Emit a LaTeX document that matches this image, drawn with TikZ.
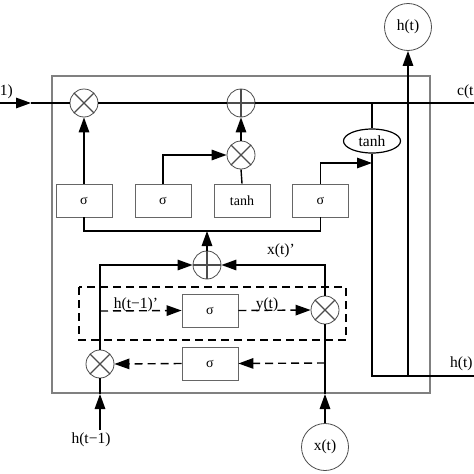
\documentclass[tikz,border=0pt]{standalone}
\usepackage{fontspec}
\setmainfont{Liberation Serif}
\usetikzlibrary{arrows.meta,shapes.geometric}
\begin{document}
\begin{tikzpicture}[x=1pt,y=-1pt,
  every node/.style={font=\fontsize{15.5}{18}\selectfont},
  wire/.style={line width=1.4pt,black},
  arr/.style={wire,-{Triangle[length=15pt,width=10.5pt]}},
  dwire/.style={wire,dash pattern=on 8pt off 5pt},
  darr/.style={dwire,-{Triangle[length=15pt,width=10.5pt]}},
  gate/.style={draw=black!60,line width=0.8pt,minimum width=56pt,minimum height=33pt,inner sep=0pt,font=\fontsize{14}{16}\selectfont},
  opnode/.style={circle,draw=black!70,line width=0.8pt,minimum size=28pt,inner sep=0pt},
  mult/.style={opnode,path picture={\draw[line width=1.3pt]
      ([shift={(-10pt,-10pt)}]path picture bounding box.center) -- ([shift={(10pt,10pt)}]path picture bounding box.center)
      ([shift={(-10pt,10pt)}]path picture bounding box.center) -- ([shift={(10pt,-10pt)}]path picture bounding box.center);}},
  plusop/.style={opnode,path picture={\draw[line width=1.3pt]
      (path picture bounding box.north) -- (path picture bounding box.south)
      (path picture bounding box.west) -- (path picture bounding box.east);}},
  io/.style={circle,draw=black!70,line width=0.8pt,minimum size=47pt,inner sep=0pt}
]
\useasboundingbox (0,0) rectangle (474,474);
% main cell
\draw[black!50,line width=1.1pt] (52,76) rectangle (430,393);
% dashed box
\draw[dwire] (79,287) rectangle (346,340);

% nodes
\node[mult] (m1) at (84,103) {};
\node[plusop] (p1) at (241,103) {};
\node[mult] (m2) at (241,155) {};
\node[gate] (b1) at (84,200.5) {σ};
\node[gate] (b2) at (163,200.5) {σ};
\node[gate] (b3) at (242,200.5) {tanh};
\node[gate] (b4) at (320.5,200.5) {σ};
\node[ellipse,draw=black,line width=1.2pt,minimum width=57pt,minimum height=24pt,inner sep=0pt] (th) at (372,141) {tanh};
\node[io] (ht) at (408,27) {h(t)};
\node[plusop] (p2) at (207,265) {};
\node[mult] (m3) at (100,364) {};
\node[mult] (m4) at (325,310) {};
\node[gate] (s1) at (210,310.5) {σ};
\node[gate] (s2) at (210,363.5) {σ};
\node[io] (xt) at (325,447) {x(t)};

% coordinates
\coordinate (cin) at (0,103);
\coordinate (ca) at (31,103);
\coordinate (cout) at (474,103);
\coordinate (ctap) at (372,103);
\coordinate (tj) at (372,163);
\coordinate (hc) at (372,376);
\coordinate (hj) at (408,376);
\coordinate (hout) at (474,376);
\coordinate (bl) at (84,231);
\coordinate (bm) at (207,231);
\coordinate (br) at (320.5,231);
\coordinate (dl) at (100,311);
\coordinate (dr) at (325,363);
\coordinate (xa) at (325,394);
\coordinate (hin) at (100,430);
\coordinate (ha) at (100,394);

% labels
\node[anchor=east,inner sep=0pt] (lcin) at (13,92) {c(t−1)};
\node[anchor=west,inner sep=0pt] (lcout) at (457,92) {c(t)};
\node[anchor=west,inner sep=0pt] (lhout) at (450,364) {h(t)};
\node (lxp) at (281,251) {x(t)'};
\node[inner sep=0pt] (lhp) at (136,305) {h(t−1)'};
\node[inner sep=0pt] (ly) at (267,305) {y(t)};
\node (lhin) at (91,440) {h(t−1)};

% cell-state line
\draw[arr] (cin) -- (ca);
\draw[wire] (ca) -- (m1) -- (p1) -- (cout);
% gates
\draw[arr] (b1.north) -- (m1.south);
\draw[arr] (b2.north) |- (m2.west);
\draw[wire] (b3.north) -- (m2.south);
\draw[arr] (m2.north) -- (p1.south);
\draw[arr] (b4.north) |- (tj);
\draw[wire] (ctap) -- (th.north);
\draw[wire] (th.south) -- (hc) -- (hout);
\draw[arr] (hj) -- (ht.south);
% bus
\draw[wire] (b1.south) -- (bl) -- (br) -- (b4.south);
\draw[arr] (p2.north) -- (bm);
\draw[arr] (m3.north) |- (p2.west);
\draw[arr] (m4.north) |- (p2.east);
% dashed paths
\draw[darr] (dl) -- (s1.west);
\draw[darr] (s1.east) -- (m4.west);
\draw[darr] (dr) -- (s2.east);
\draw[darr] (s2.west) -- (m3.east);
% inputs
\draw[arr] (xt.north) -- (xa);
\draw[wire] (xa) -- (m4.south);
\draw[arr] (hin) -- (ha);
\draw[wire] (ha) -- (m3.south);
\end{tikzpicture}
\end{document}
